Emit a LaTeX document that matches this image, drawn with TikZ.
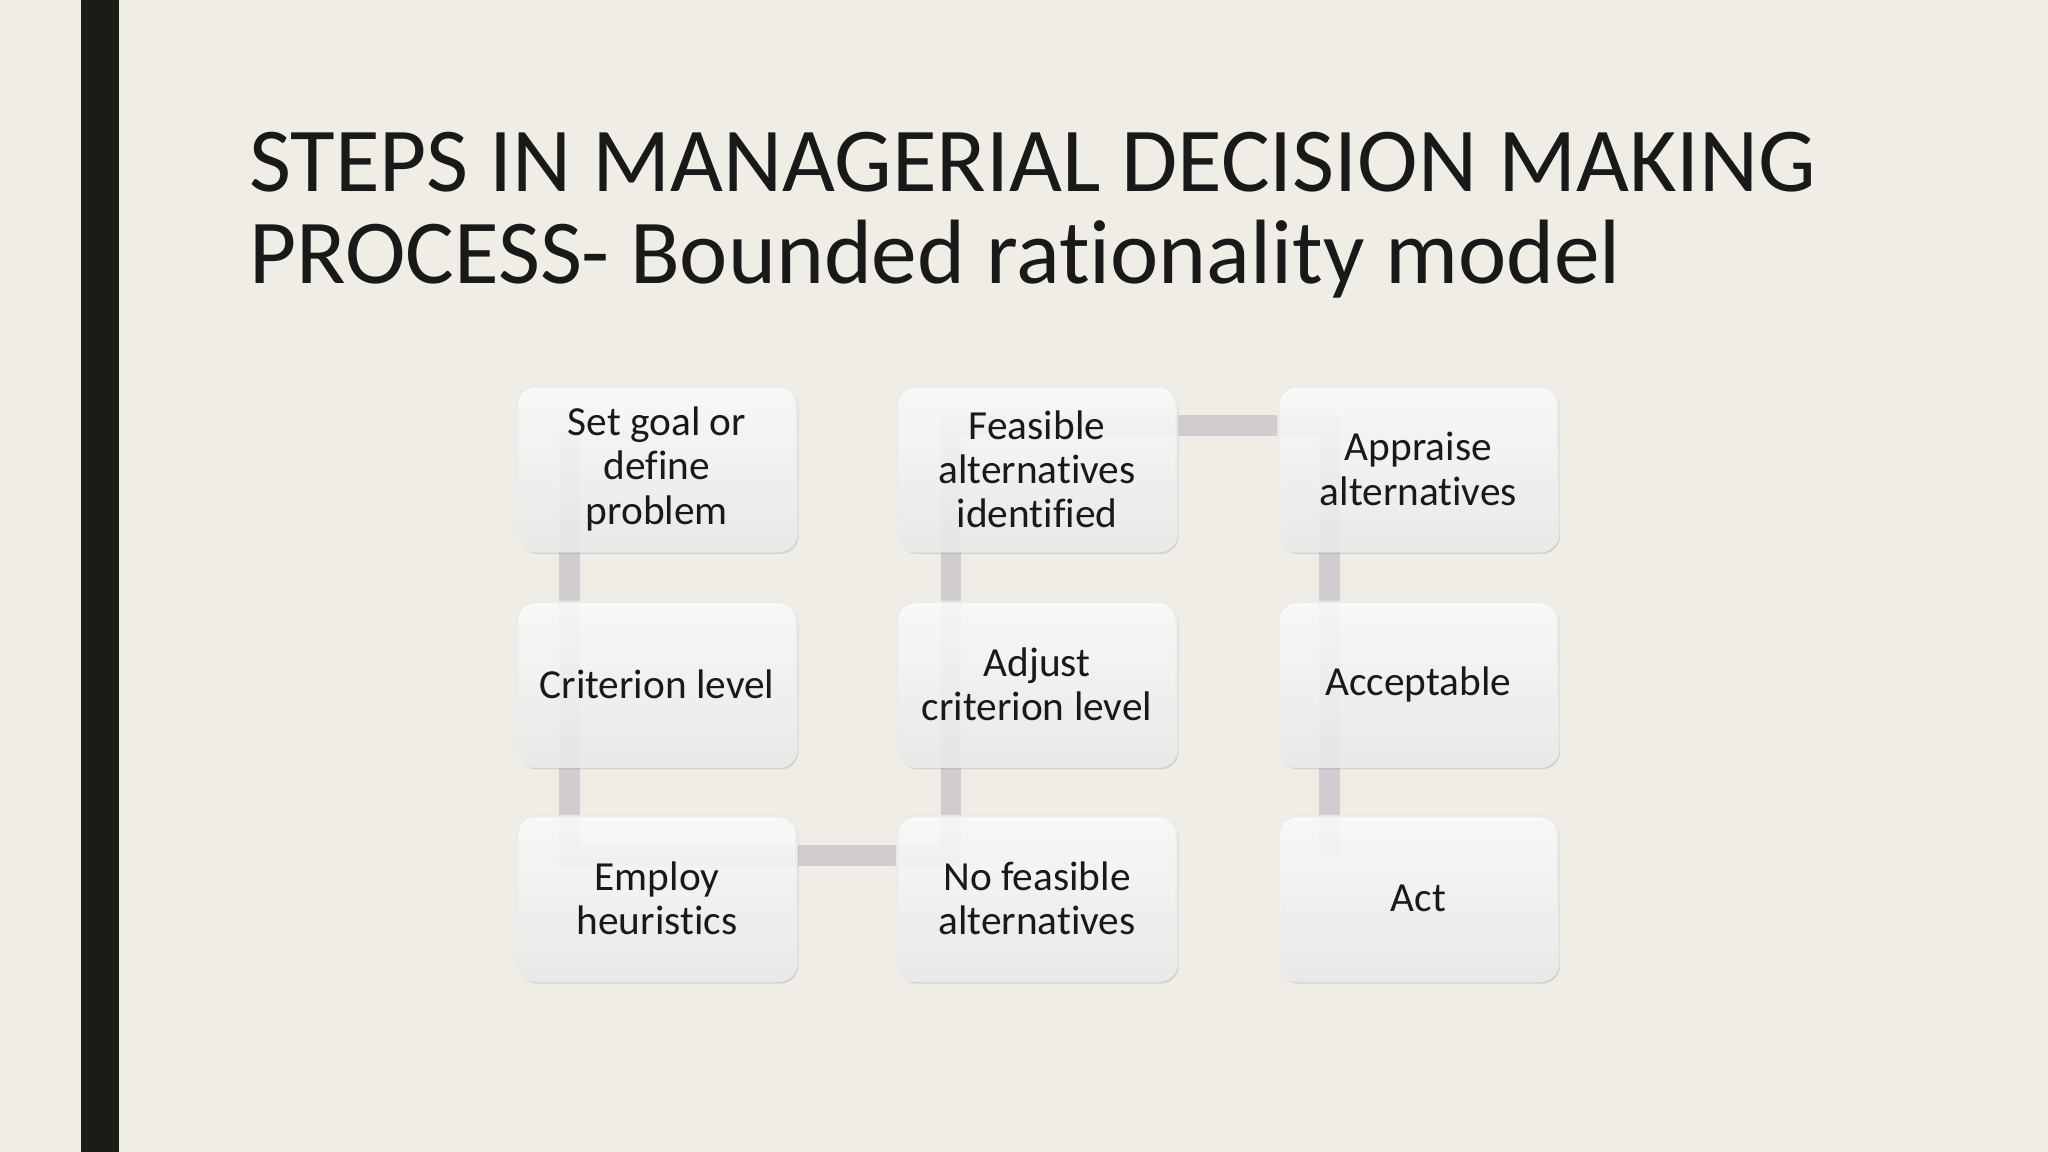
\documentclass[tikz,border=0pt]{standalone}
\usepackage{fontspec}
\setmainfont{Carlito}[Ligatures=NoCommon]
\usetikzlibrary{shadows}
\definecolor{bg}{RGB}{240,237,230}
\definecolor{bar}{RGB}{26,28,22}
\definecolor{conn}{RGB}{208,204,208}
\definecolor{ink}{RGB}{25,25,25}
\tikzset{
  stepbox/.style={draw=white!92!black, line width=0.6pt, rounded corners=4pt, minimum width=2.14cm, minimum height=1.26cm,
    inner sep=1pt,
    top color=white, bottom color=white!93!black, opacity=0.85, text opacity=1, text=ink, align=center,
    font=\fontsize{9pt}{9.6pt}\selectfont, drop shadow={opacity=0.25, shadow xshift=0.4pt, shadow yshift=-0.6pt}},
  link/.style={conn, line width=4.5pt},
  title/.style={anchor=base west, text=ink, font=\fontsize{19.9pt}{24pt}\selectfont, inner sep=0}
}
\begin{document}
\begin{tikzpicture}[x=0.01cm,y=-0.01cm]
\fill[bg] (0,0) rectangle (1568,882);
\useasboundingbox (0,0) rectangle (1568,882);
\fill[bar] (62,0) rectangle (91,882);
\node[title] (t1) at (190,147) {STEPS IN MANAGERIAL DECISION MAKING};
\node[title] (t2) at (190,217) {PROCESS- Bounded rationality model};
\coordinate (p1) at (436,330);
\coordinate (p2) at (436,655);
\coordinate (p3) at (728,655);
\coordinate (p4) at (728,326);
\coordinate (p5) at (1018,326);
\coordinate (p6) at (1018,655);
\draw[link] (p1) -- (p2) -- (p3) -- (p4) -- (p5) -- (p6);
\node[stepbox] (a1) at (503,359) {Set goal or\\define\\problem};
\node[stepbox] (a2) at (503,524) {Criterion level};
\node[stepbox] (a3) at (503,688) {Employ\\heuristics};
\node[stepbox] (b1) at (794,359) {Feasible\\alternatives\\identified};
\node[stepbox] (b2) at (794,524) {Adjust\\criterion level};
\node[stepbox] (b3) at (794,688) {No feasible\\alternatives};
\node[stepbox] (c1) at (1086,359) {Appraise\\alternatives};
\node[stepbox] (c2) at (1086,524) {Acceptable};
\node[stepbox] (c3) at (1086,688) {Act};
\end{tikzpicture}
\end{document}
